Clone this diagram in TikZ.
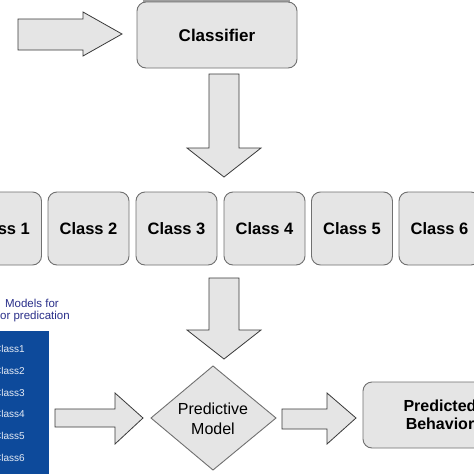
\documentclass[tikz,border=0pt]{standalone}
\usepackage{fontspec}
\setmainfont{Liberation Sans}
\definecolor{boxfill}{HTML}{E5E5E5}
\definecolor{boxline}{HTML}{707070}
\definecolor{arrowline}{HTML}{3A3A3A}
\definecolor{listblue}{HTML}{0D4A9B}
\definecolor{titleblue}{HTML}{2A2F8A}
\definecolor{listtext}{HTML}{E6ECF5}
\begin{document}
\begin{tikzpicture}[x=1pt,y=-1pt,
  roundbox/.style={draw=boxline, fill=boxfill, rounded corners=9pt, line width=0.9pt, inner sep=0pt, align=center},
  blockarrow/.style={draw=arrowline, fill=boxfill, line width=0.8pt, line join=miter},
  classbox/.style={roundbox, minimum width=81pt, minimum height=73pt, font=\fontsize{16.5}{19}\selectfont\bfseries},
  listitem/.style={text=listtext, font=\fontsize{10}{12}\selectfont, inner sep=0pt},
  titletext/.style={text=titleblue, font=\fontsize{11.5}{13}\selectfont, inner sep=0pt, anchor=east}]
\useasboundingbox (0,0) rectangle (474,474);
\clip (0,0) rectangle (474,474);
\fill[white] (0,0) rectangle (474,474);

% strip above classifier
\fill[gray!75] (143,0) rectangle (290,3);

% classifier
\node[roundbox, minimum width=160pt, minimum height=66pt, font=\fontsize{17}{20}\selectfont\bfseries] (clf) at (217,35) {Classifier};

% input arrow
\draw[blockarrow] (18,19) -- (83,19) -- (83,12) -- (122,34) -- (83,56) -- (83,50) -- (18,50) -- cycle;

% down arrow 1
\draw[blockarrow] (209,74) -- (239,74) -- (239,148) -- (261,148) -- (224,177) -- (187,148) -- (209,148) -- cycle;

% class boxes
\node[classbox] (c1) at (1,228.5) {Class 1};
\node[classbox] (c2) at (88.5,228.5) {Class 2};
\node[classbox] (c3) at (176.5,228.5) {Class 3};
\node[classbox] (c4) at (264.5,228.5) {Class 4};
\node[classbox] (c5) at (352,228.5) {Class 5};
\node[classbox] (c6) at (439.5,228.5) {Class 6};

% down arrow 2
\draw[blockarrow] (209,278) -- (239,278) -- (239,330) -- (261,330) -- (224,359) -- (187,330) -- (209,330) -- cycle;

% title
\node[titletext] (t1) at (59,303) {Models for};
\node[titletext] (t2) at (70,317) {or predication};

% blue list
\fill[listblue] (-31,331) rectangle (49,480);
\node[listitem] (l1) at (9.5,349) {Class1};
\node[listitem] (l2) at (9.5,371) {Class2};
\node[listitem] (l3) at (9.5,392.5) {Class3};
\node[listitem] (l4) at (9.5,414) {Class4};
\node[listitem] (l5) at (9.5,436) {Class5};
\node[listitem] (l6) at (9.5,458) {Class6};

% arrow into diamond
\draw[blockarrow] (55,409) -- (115,409) -- (115,393) -- (143,418) -- (115,444) -- (115,427) -- (55,427) -- cycle;

% diamond
\draw[draw=boxline, fill=boxfill, line width=0.9pt] (151,418) -- (213,366) -- (276,418) -- (213,470) -- cycle;
\node[align=center, inner sep=0pt, font=\fontsize{16}{20}\selectfont] (pm) at (213,419) {Predictive\\Model};

% arrow out of diamond
\draw[blockarrow] (282,409) -- (327,409) -- (327,393) -- (356,418) -- (327,444) -- (327,429) -- (282,429) -- cycle;

% predicted behaviour
\node[roundbox, minimum width=154pt, minimum height=66pt, font=\fontsize{16}{18.5}\selectfont\bfseries] (pb) at (440,415) {Predicted\\Behavior};
\end{tikzpicture}
\end{document}
